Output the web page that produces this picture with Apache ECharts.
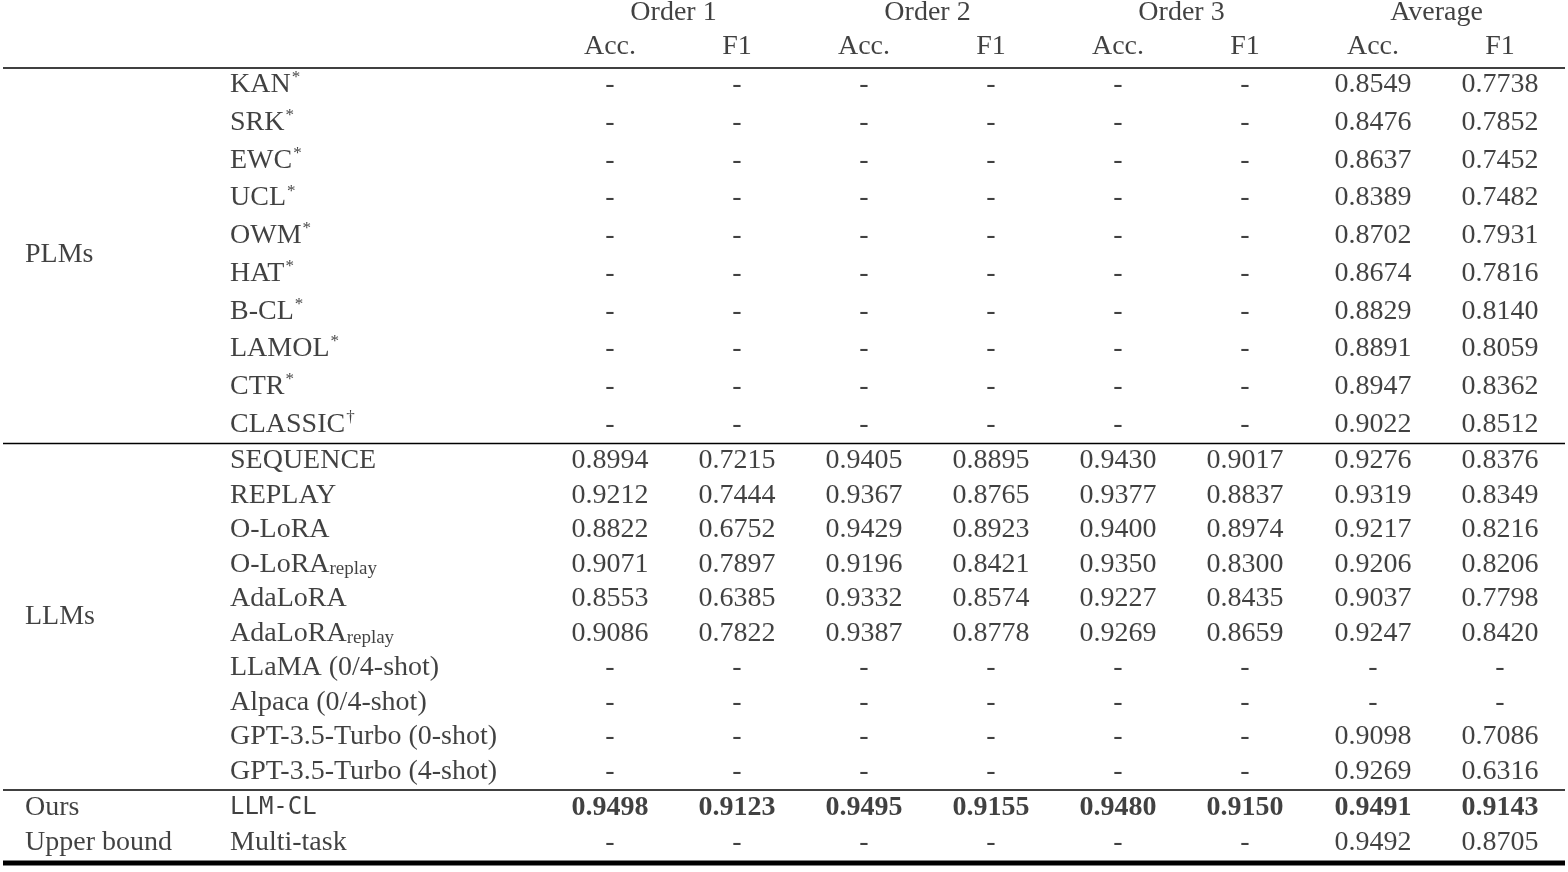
<!DOCTYPE html>
<html><head><meta charset="utf-8">
<script src="https://cdn.jsdelivr.net/npm/echarts@6/dist/echarts.min.js"></script>
<style>html,body{margin:0;background:#fff}#main{width:1568px;height:872px}</style>
</head><body><div id="main"></div>
<script>
// 表格数据
var groups = ['PLMs', 'LLMs', 'Ours', 'Upper bound'];
var plmMethods = ['KAN{s|*}', 'SRK{s|*}', 'EWC{s|*}', 'UCL{s|*}', 'OWM{s|*}', 'HAT{s|*}', 'B-CL{s|*}', 'LAMOL{s|*}', 'CTR{s|*}', 'CLASSIC{s|†}'];
var plmAvgAcc = ['0.8549', '0.8476', '0.8637', '0.8389', '0.8702', '0.8674', '0.8829', '0.8891', '0.8947', '0.9022'];
var plmAvgF1 = ['0.7738', '0.7852', '0.7452', '0.7482', '0.7931', '0.7816', '0.8140', '0.8059', '0.8362', '0.8512'];
var llmMethods = ['SEQUENCE', 'REPLAY', 'O-LoRA', 'O-LoRA{b|replay}', 'AdaLoRA', 'AdaLoRA{b|replay}', 'LLaMA (0/4-shot)', 'Alpaca (0/4-shot)', 'GPT-3.5-Turbo (0-shot)', 'GPT-3.5-Turbo (4-shot)'];
var llmVals = [
  ['0.8994', '0.7215', '0.9405', '0.8895', '0.9430', '0.9017', '0.9276', '0.8376'],
  ['0.9212', '0.7444', '0.9367', '0.8765', '0.9377', '0.8837', '0.9319', '0.8349'],
  ['0.8822', '0.6752', '0.9429', '0.8923', '0.9400', '0.8974', '0.9217', '0.8216'],
  ['0.9071', '0.7897', '0.9196', '0.8421', '0.9350', '0.8300', '0.9206', '0.8206'],
  ['0.8553', '0.6385', '0.9332', '0.8574', '0.9227', '0.8435', '0.9037', '0.7798'],
  ['0.9086', '0.7822', '0.9387', '0.8778', '0.9269', '0.8659', '0.9247', '0.8420'],
  ['-', '-', '-', '-', '-', '-', '-', '-'],
  ['-', '-', '-', '-', '-', '-', '-', '-'],
  ['-', '-', '-', '-', '-', '-', '0.9098', '0.7086'],
  ['-', '-', '-', '-', '-', '-', '0.9269', '0.6316']
];
var oursVals = ['0.9498', '0.9123', '0.9495', '0.9155', '0.9480', '0.9150', '0.9491', '0.9143'];
var upperVals = ['-', '-', '-', '-', '-', '-', '0.9492', '0.8705'];
var headTop = ['Order 1', 'Order 2', 'Order 3', 'Average'];
var headSub = ['Acc.', 'F1'];

// 版式
var colX = [610, 737, 864, 991, 1118, 1245, 1373, 1500];
var groupX = 25, methodX = 230;
function plmY(i) { return 85 + i * 37.7; }
function llmY(i) { return 461 + i * 34.5; }

var centerPts = [], leftPts = [], boldPts = [];
headTop.forEach(function (h, k) { centerPts.push([(colX[2 * k] + colX[2 * k + 1]) / 2, 13, h]); });
colX.forEach(function (x, k) { centerPts.push([x, 47, headSub[k % 2]]); });
plmMethods.forEach(function (m, i) {
  leftPts.push([methodX, plmY(i), m]);
  for (var c = 0; c < 6; c++) centerPts.push([colX[c], plmY(i), '-']);
  centerPts.push([colX[6], plmY(i), plmAvgAcc[i]]);
  centerPts.push([colX[7], plmY(i), plmAvgF1[i]]);
});
leftPts.push([groupX, (plmY(0) + plmY(9)) / 2, groups[0]]);
llmMethods.forEach(function (m, i) {
  leftPts.push([methodX, llmY(i), m]);
  llmVals[i].forEach(function (v, c) { centerPts.push([colX[c], llmY(i), v]); });
});
leftPts.push([groupX, (llmY(0) + llmY(9)) / 2, groups[1]]);
leftPts.push([groupX, 808, groups[2]]);
leftPts.push([methodX, 808, '{m|LLM-CL}']);
oursVals.forEach(function (v, c) { boldPts.push([colX[c], 808, v]); });
leftPts.push([groupX, 843, groups[3]]);
leftPts.push([methodX, 843, 'Multi-task']);
upperVals.forEach(function (v, c) { centerPts.push([colX[c], 843, v]); });

var font = 'Liberation Serif';
var baseLabel = { show: true, position: 'inside', color: '#111', fontFamily: font, fontSize: 28,
  formatter: function (p) { return p.value[2]; },
  rich: {
    s: { fontSize: 17, fontFamily: font, color: '#111', padding: [0, 0, 14, 1] },
    b: { fontSize: 19, fontFamily: font, color: '#111', padding: [10, 0, 0, 0] },
    m: { fontSize: 24, fontFamily: 'DejaVu Sans Mono', color: '#111' }
  }
};
function ser(data, extra) {
  return { type: 'scatter', symbolSize: 0, silent: true, data: data,
    label: Object.assign({}, baseLabel, extra) };
}

function hline(y, w) {
  return { type: 'line', shape: { x1: 3, y1: y, x2: 1565, y2: y }, style: { stroke: '#000', lineWidth: w } };
}

var chart = echarts.init(document.getElementById('main'));
chart.setOption({
  animation: false,
  grid: { left: 0, right: 0, top: 0, bottom: 0 },
  xAxis: { type: 'value', min: 0, max: 1568, show: false },
  yAxis: { type: 'value', min: 0, max: 872, inverse: true, show: false },
  series: [
    ser(centerPts, { align: 'center', verticalAlign: 'middle' }),
    ser(leftPts, { align: 'left', verticalAlign: 'middle' }),
    ser(boldPts, { align: 'center', verticalAlign: 'middle', fontWeight: 'bold' })
  ],
  graphic: [hline(68, 1.5), hline(443.5, 1.5), hline(790, 1.5), hline(863, 5)]
});
</script></body></html>
